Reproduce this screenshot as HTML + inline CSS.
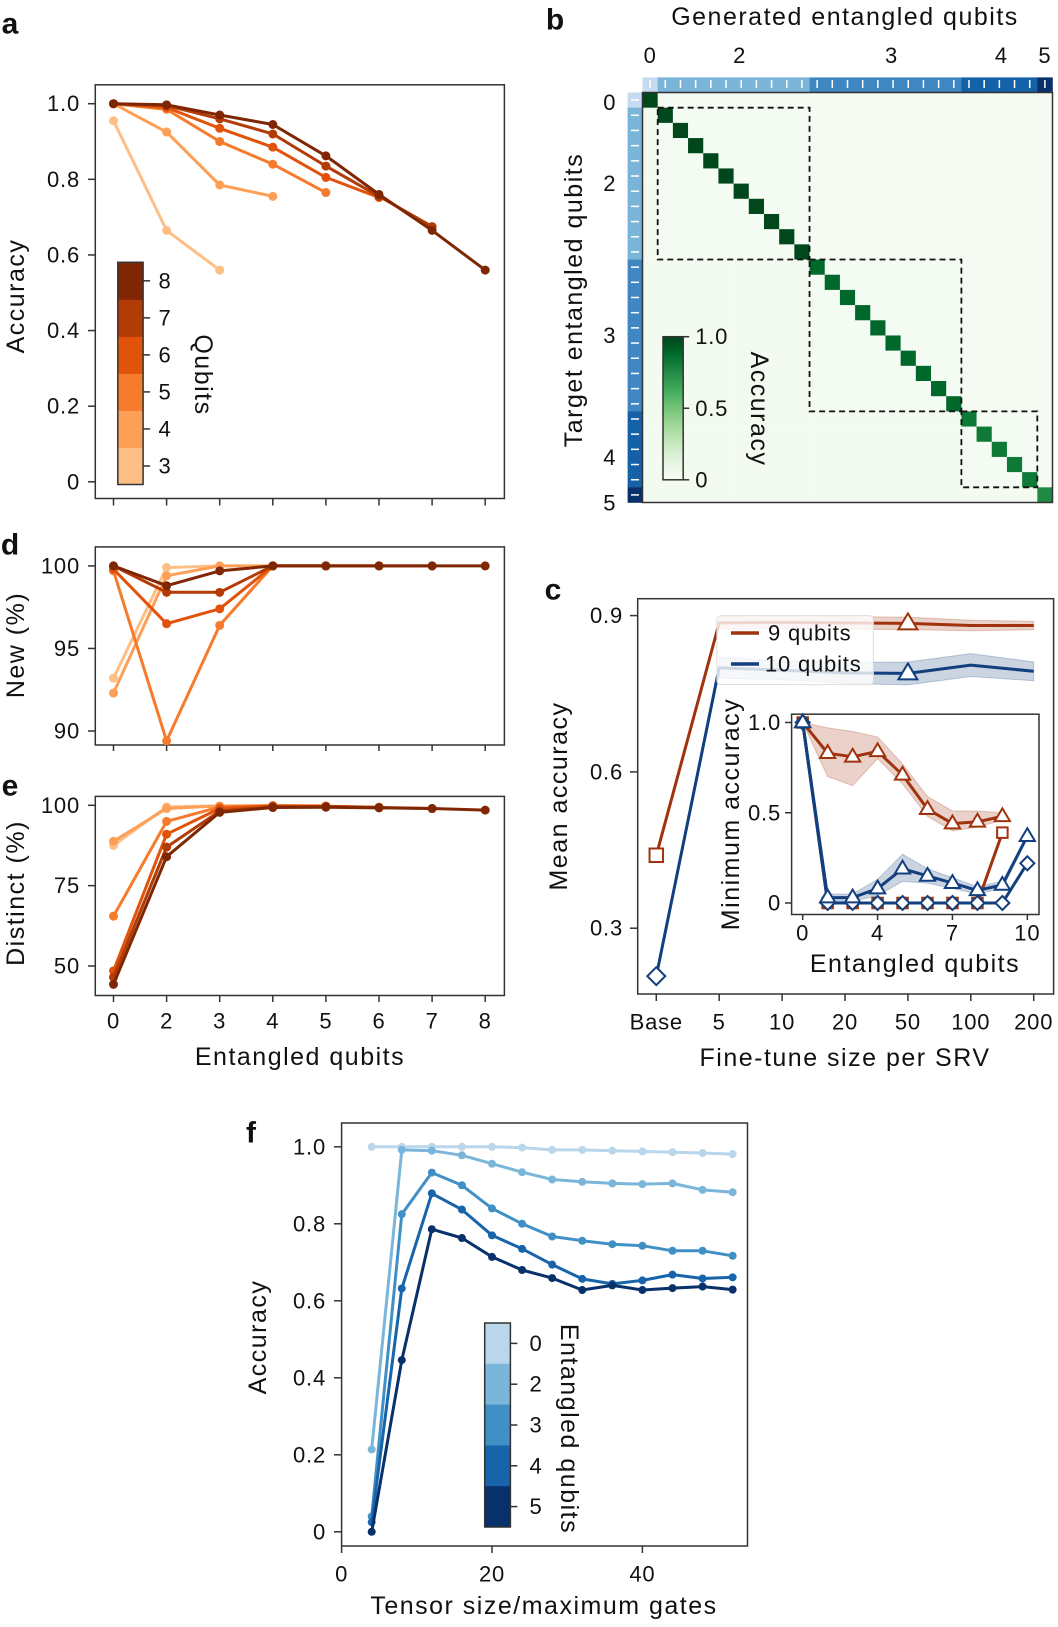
<!DOCTYPE html>
<html><head><meta charset="utf-8"><style>
html,body{margin:0;padding:0;background:#fff;}
svg{display:block;font-family:"Liberation Sans",sans-serif;}
</style></head><body>
<svg id="fig" width="1058" height="1627" viewBox="0 0 1058 1627" xmlns="http://www.w3.org/2000/svg"></svg>
<script>
// ---------- data ----------
const aCategories = ['0','2','3','4','5','6','7','8'];
const qubitLabels = ['3','4','5','6','7','8'];
const qubitColors = ['#fdbf86','#fd9f56','#f67b2c','#e1530b','#b23b06','#7f2704'];
const aAcc3 = [0.955,0.665,0.56];
const aAcc4 = [1.0,0.925,0.785,0.755];
const aAcc5 = [1.0,0.985,0.90,0.84,0.765];
const aAcc6 = [1.0,0.99,0.935,0.885,0.805,0.752];
const aAcc7 = [1.0,0.995,0.96,0.92,0.835,0.755,0.675];
const aAcc8 = [1.0,0.997,0.97,0.945,0.862,0.76,0.665,0.56];
const aTicks = [0,0.2,0.4,0.6,0.8,1.0];
const aTickLabels = ['0','0.2','0.4','0.6','0.8','1.0'];

const dNew3 = [93.2,99.9,100];
const dNew4 = [92.3,99.4,100,100];
const dNew5 = [99.7,89.4,96.4,100,100];
const dNew6 = [99.8,96.5,97.4,100,100,100];
const dNew7 = [100,98.4,98.4,100,100,100,100];
const dNew8 = [100,98.8,99.7,100,100,100,100,100];
const dTicks = [90,95,100];

const eDist3 = [87.5,99.5,99.8];
const eDist4 = [88.8,99.0,99.8,99.9];
const eDist5 = [65.5,95.0,99.5,99.9,99.8];
const eDist6 = [48.5,91.0,99.0,99.8,99.7,99.4];
const eDist7 = [46.5,87.0,98.2,99.6,99.6,99.3,99.0];
const eDist8 = [44.3,84.0,97.8,99.3,99.4,99.2,99.0,98.5];
const eTicks = [50,75,100];

const hmGroups = [0,2,2,2,2,2,2,2,2,2,2,3,3,3,3,3,3,3,3,3,3,4,4,4,4,4,5];
const hmDiag = [0.99,0.99,0.99,0.99,0.99,0.99,0.99,0.99,0.99,0.99,0.99,0.89,0.89,0.89,0.89,0.89,0.89,0.89,0.89,0.89,0.89,0.82,0.82,0.82,0.82,0.82,0.76];
const hmOff = 0.02;
const hmGroupLabels = ['0','2','3','4','5'];

const cCategories = ['Base','5','10','20','50','100','200'];
const c9 = [0.44,0.886,0.887,0.886,0.885,0.881,0.881];
const c9Err = [0,0.012,0.012,0.012,0.012,0.01,0.008];
const c10 = [0.208,0.80,0.795,0.79,0.789,0.805,0.793];
const c10Err = [0,0.02,0.018,0.02,0.022,0.022,0.018];
const cTicks = [0.3,0.6,0.9];
const insetCategories = ['0','2','3','4','5','6','7','8','9','10'];
const insetTickIdx = [0,3,6,9];
const in9Tri = [1.0,0.83,0.81,0.84,0.71,0.52,0.44,0.45,0.48];
const in9TriHi = [1.0,0.97,0.95,0.92,0.77,0.59,0.51,0.51,0.5];
const in9TriLo = [1.0,0.70,0.65,0.80,0.66,0.48,0.40,0.42,0.46];
const in9Sq = [1.0,0,0,0,0,0,0,0,0.39];
const in10Tri = [1.0,0.03,0.03,0.08,0.19,0.15,0.11,0.07,0.10,0.37];
const in10TriHi = [1.0,0.05,0.05,0.13,0.27,0.19,0.14,0.09,0.12,0.38];
const in10TriLo = [1.0,0.01,0.01,0.04,0.12,0.11,0.08,0.05,0.08,0.36];
const in10Dia = [1.0,0,0,0,0,0,0,0,0,0.22];
const insetYTicks = [0,0.5,1.0];

const fX = [4,8,12,16,20,24,28,32,36,40,44,48,52];
const f0 = [1.0,1.0,1.0,1.0,1.0,0.998,0.992,0.992,0.99,0.988,0.986,0.984,0.981];
const f2 = [0.214,0.992,0.99,0.978,0.956,0.934,0.915,0.909,0.905,0.903,0.905,0.888,0.882];
const f3 = [0.04,0.825,0.933,0.90,0.84,0.80,0.767,0.756,0.747,0.743,0.73,0.73,0.717];
const f4 = [0.025,0.632,0.879,0.837,0.77,0.735,0.694,0.657,0.644,0.653,0.668,0.658,0.661];
const f5 = [0.0,0.446,0.786,0.763,0.714,0.68,0.659,0.628,0.64,0.628,0.633,0.637,0.629];
const fLabels = ['0','2','3','4','5'];
const fColors = ['#bad6ea','#7ab6d9','#4090c5','#1764ab','#08306b'];
const fXTicks = [0,20,40];
const fYTicks = [0,0.2,0.4,0.6,0.8,1.0];
const fYTickLabels = ['0','0.2','0.4','0.6','0.8','1.0'];

// ---------- helpers ----------
const NS='http://www.w3.org/2000/svg';
const svg=document.getElementById('fig');
const TS=22, TT=25;
function el(tag, attrs, name, parent){
  const e=document.createElementNS(NS,tag);
  for(const k in attrs) e.setAttribute(k, attrs[k]);
  
  
  (parent||svg).appendChild(e);
  return e;
}
function txt(x,y,s,size,anchor,name,rot,weight){
  const a={x:x,y:y,'font-size':size,'text-anchor':anchor||'middle','dominant-baseline':'central',fill:'#111'};
  if(weight) a['font-weight']=weight;
  else a['letter-spacing']=(size>=TT?1.5:0.8);
  if(rot) a.transform='rotate('+rot+' '+x+' '+y+')';
  const t=el('text',a,name);
  t.textContent=s;
  return t;
}
function line(x1,y1,x2,y2,stroke,w,name,dash){
  const a={x1:x1,y1:y1,x2:x2,y2:y2,stroke:stroke,'stroke-width':w};
  if(dash) a['stroke-dasharray']=dash;
  return el('line',a,name);
}
function poly(pts,color,w,name){
  return el('polyline',{points:pts.map(p=>p[0].toFixed(1)+','+p[1].toFixed(1)).join(' '),fill:'none',stroke:color,'stroke-width':w,'stroke-linejoin':'round'},name);
}
function box(x1,y1,x2,y2,name){
  return el('rect',{x:x1,y:y1,width:x2-x1,height:y2-y1,fill:'none',stroke:'#333','stroke-width':1.5},name);
}
function hexLerp(a,b,t){
  const pa=[1,3,5].map(i=>parseInt(a.substr(i,2),16)), pb=[1,3,5].map(i=>parseInt(b.substr(i,2),16));
  return 'rgb('+pa.map((v,i)=>Math.round(v+(pb[i]-v)*t)).join(',')+')';
}
const greens=['#f7fcf5','#e5f5e0','#c7e9c0','#a1d99b','#74c476','#41ab5d','#238b45','#006d2c','#00441b'];
function greenOf(v){const p=Math.max(0,Math.min(1,v))*8;const i=Math.min(7,Math.floor(p));return hexLerp(greens[i],greens[i+1],p-i);}

// ---------- panel a ----------
const ax=i=>113.5+i*53.1, ay=v=>481.8-v*378.1;
txt(10,24,'a',30,'middle','panel-label-a',0,'bold');
box(95.3,84.8,504.4,498.5,'panel-a-axes');
aTicks.forEach((v,i)=>{line(88,ay(v),95.3,ay(v),'#333',1.5,'a-y-tick');txt(80,ay(v),aTickLabels[i],TS,'end','a-y-tick-label');});
aCategories.forEach((c,i)=>line(ax(i),498.5,ax(i),505.5,'#333',1.5,'a-x-tick'));
txt(16,296,'Accuracy',TT,'middle','a-y-axis-title',-90);
[aAcc3,aAcc4,aAcc5,aAcc6,aAcc7,aAcc8].forEach((s,k)=>{
  poly(s.map((v,i)=>[ax(i),ay(v)]),qubitColors[k],3,'a-line-q'+qubitLabels[k]);
  s.forEach((v,i)=>el('circle',{cx:ax(i),cy:ay(v),r:4.5,fill:qubitColors[k]},'a-point'));
});
(function(){const x0=117.8,x1=143.1,y0=262.3,y1=484.5,h=(y1-y0)/6;
  qubitColors.forEach((c,k)=>{const yy=y1-(k+1)*h;el('rect',{x:x0,y:yy,width:x1-x0,height:h+0.5,fill:c},'a-colorbar-segment');
    line(x1,yy+h/2,x1+7,yy+h/2,'#333',1.5,'a-colorbar-tick');txt(165,yy+h/2,qubitLabels[k],TS,'middle','a-colorbar-label');});
  box(x0,y0,x1,y1,'a-colorbar-frame');
  txt(203,375,'Qubits',TT,'middle','a-colorbar-title',90);})();

// ---------- panel b ----------
const bL=642.5,bT=92.5,cs=410/27;
txt(555,20,'b',30,'middle','panel-label-b',0,'bold');
txt(845,17,'Generated entangled qubits',TT,'middle','b-x-axis-title');
txt(574,300,'Target entangled qubits',TT,'middle','b-y-axis-title',-90);
hmGroups.forEach((gr,i)=>hmGroups.forEach((gc,j)=>{
  const v=(i===j)?hmDiag[i]:hmOff*(gr===gc?1:(i>j?1.3:0.8));
  el('rect',{x:bL+j*cs,y:bT+i*cs,width:cs+0.3,height:cs+0.3,fill:greenOf(v)},'heatmap-cell');
}));
const stripColor={0:'#c6dbef',2:'#7bb4d9',3:'#3f87c2',4:'#1561a8',5:'#08306b'};
hmGroups.forEach((g,i)=>{
  el('rect',{x:bL+i*cs,y:77.4,width:cs+0.3,height:bT-77.4,fill:stripColor[g]},'b-top-strip-cell');
  line(bL+i*cs+cs/2,80,bL+i*cs+cs/2,88,'#fff',1.5,'b-top-strip-tick');
  el('rect',{x:627.6,y:bT+i*cs,width:bL-627.6,height:cs+0.3,fill:stripColor[g]},'b-left-strip-cell');
  line(631,bT+i*cs+cs/2,639,bT+i*cs+cs/2,'#fff',1.5,'b-left-strip-tick');
});
box(bL,bT,bL+410,bT+410,'b-heatmap-frame');
[[0,1],[1,10],[11,10],[21,5],[26,1]].forEach((g,k)=>{
  const c=bL+(g[0]+g[1]/2)*cs;
  txt(c+(k===1||k===2?6:k===3?2:0),55.6,hmGroupLabels[k],TS,'middle','b-top-group-label');
  const r=bT+(g[0]+g[1]/2)*cs;
  txt(609.8,k===4?503:k===0?102.7:r+(k===3?8:0),hmGroupLabels[k],TS,'middle','b-left-group-label');
  if(k>=1&&k<=3) el('rect',{x:bL+g[0]*cs,y:bT+g[0]*cs,width:g[1]*cs,height:g[1]*cs,fill:'none',stroke:'#111','stroke-width':1.8,'stroke-dasharray':'6,4'},'b-group-dashed-box');
});
(function(){const x0=663,x1=683.2,y0=336.7,y1=479.8;
  const gd=el('linearGradient',{id:'gcb',x1:0,y1:1,x2:0,y2:0},'b-colorbar-gradient');
  greens.forEach((c,i)=>el('stop',{offset:(i/8),'stop-color':c},'gradient-stop',gd));
  el('rect',{x:x0,y:y0,width:x1-x0,height:y1-y0,fill:'url(#gcb)',stroke:'#333','stroke-width':1.5},'b-colorbar');
  [[1,'1.0'],[0.5,'0.5'],[0,'0']].forEach(p=>{const y=y1-p[0]*(y1-y0);line(x1,y,x1+6,y,'#333',1.5,'b-colorbar-tick');txt(x1+12,y,p[1],TS,'start','b-colorbar-label');});
  txt(759,409,'Accuracy',TT,'middle','b-colorbar-title',90);})();

// ---------- panel d & e ----------
const dy=v=>565.9+(100-v)*16.51, ey=v=>805.3+(100-v)*3.214;
txt(10,545,'d',30,'middle','panel-label-d',0,'bold');
txt(10,786,'e',30,'middle','panel-label-e',0,'bold');
box(95.3,546.9,504.4,745,'panel-d-axes');
box(95.3,796.4,504.4,995.5,'panel-e-axes');
dTicks.forEach(v=>{line(88,dy(v),95.3,dy(v),'#333',1.5,'d-y-tick');txt(80,dy(v),String(v),TS,'end','d-y-tick-label');});
eTicks.forEach(v=>{line(88,ey(v),95.3,ey(v),'#333',1.5,'e-y-tick');txt(80,ey(v),String(v),TS,'end','e-y-tick-label');});
aCategories.forEach((c,i)=>{line(ax(i),745,ax(i),751,'#333',1.5,'d-x-tick');line(ax(i),995.5,ax(i),1002,'#333',1.5,'e-x-tick');txt(ax(i),1021,c,TS,'middle','e-x-tick-label');});
txt(16,645,'New (%)',TT,'middle','d-y-axis-title',-90);
txt(16,893,'Distinct (%)',TT,'middle','e-y-axis-title',-90);
txt(300,1057,'Entangled qubits',TT,'middle','e-x-axis-title');
[dNew3,dNew4,dNew5,dNew6,dNew7,dNew8].forEach((s,k)=>{
  poly(s.map((v,i)=>[ax(i),dy(v)]),qubitColors[k],3,'d-line-q'+qubitLabels[k]);
  s.forEach((v,i)=>el('circle',{cx:ax(i),cy:dy(v),r:4.5,fill:qubitColors[k]},'d-point'));
});
[eDist3,eDist4,eDist5,eDist6,eDist7,eDist8].forEach((s,k)=>{
  poly(s.map((v,i)=>[ax(i),ey(v)]),qubitColors[k],3,'e-line-q'+qubitLabels[k]);
  s.forEach((v,i)=>el('circle',{cx:ax(i),cy:ey(v),r:4.5,fill:qubitColors[k]},'e-point'));
});

// ---------- panel c ----------
const C9='#a0330e', C10='#123f7d';
const cx=i=>656.3+i*62.9, cy=v=>615.6+(0.9-v)*521;
txt(553,590,'c',30,'middle','panel-label-c',0,'bold');
box(637.7,598.7,1053.6,994,'panel-c-axes');
cTicks.forEach(v=>{line(630,cy(v),637.7,cy(v),'#333',1.5,'c-y-tick');txt(623,cy(v),v.toFixed(1),TS,'end','c-y-tick-label');});
cCategories.forEach((c,i)=>{line(cx(i),994,cx(i),1001,'#333',1.5,'c-x-tick');txt(cx(i),1022,c,TS,'middle','c-x-tick-label');});
txt(845,1058,'Fine-tune size per SRV',TT,'middle','c-x-axis-title');
txt(559,796,'Mean accuracy',TT,'middle','c-y-axis-title',-90);
function band(xs,hi,lo,color,name,fx,fy,from){
  const up=[],dn=[];for(let i=from;i<hi.length;i++){up.push(fx(i)+','+fy(hi[i]));dn.unshift(fx(i)+','+fy(lo[i]));}
  el('polygon',{points:up.concat(dn).join(' '),fill:color,'fill-opacity':0.22,stroke:color,'stroke-opacity':0.25},name);
}
band(cCategories,c9.map((v,i)=>v+c9Err[i]),c9.map((v,i)=>v-c9Err[i]),C9,'c-band-9-qubits',cx,cy,1);
band(cCategories,c10.map((v,i)=>v+c10Err[i]),c10.map((v,i)=>v-c10Err[i]),C10,'c-band-10-qubits',cx,cy,1);
poly(c9.map((v,i)=>[cx(i),cy(v)]),C9,3,'c-line-9-qubits');
poly(c10.map((v,i)=>[cx(i),cy(v)]),C10,3,'c-line-10-qubits');
function marker(kind,x,y,color,s,name){
  let pts;
  if(kind==='tri') pts=[[x,y-s],[x+s*0.95,y+s*0.6],[x-s*0.95,y+s*0.6]];
  else if(kind==='sq') pts=[[x-s*0.75,y-s*0.75],[x+s*0.75,y-s*0.75],[x+s*0.75,y+s*0.75],[x-s*0.75,y+s*0.75]];
  else pts=[[x,y-s],[x+s,y],[x,y+s],[x-s,y]];
  el('polygon',{points:pts.map(p=>p.join(',')).join(' '),fill:'#fff',stroke:color,'stroke-width':2},name);
}
marker('sq',cx(0),cy(c9[0]),C9,9,'c-marker-9-base');
marker('dia',cx(0),cy(c10[0]),C10,9,'c-marker-10-base');
marker('tri',cx(4),cy(c9[4]),C9,10,'c-marker-9-triangle');
marker('tri',cx(4),cy(c10[4]),C10,10,'c-marker-10-triangle');
el('rect',{x:716.9,y:615.6,width:156.5,height:69,rx:4,fill:'#fff','fill-opacity':0.8,stroke:'#ddd','stroke-width':1},'c-legend');
line(731,633,759,633,C9,3.5,'legend-9-qubits-line');txt(768,633,'9 qubits',TS,'start','legend-9-qubits-label');
line(731,664,759,664,C10,3.5,'legend-10-qubits-line');txt(765,664,'10 qubits',TS,'start','legend-10-qubits-label');
// inset
const ix=i=>802.7+i*24.96, iy=v=>903-v*180.5;
el('rect',{x:791.6,y:714.2,width:247.4,height:200.3,fill:'#fff',stroke:'#333','stroke-width':1.5},'c-inset-axes');
insetYTicks.forEach(v=>{line(785,iy(v),791.6,iy(v),'#333',1.5,'inset-y-tick');txt(781,iy(v),v===0?'0':v.toFixed(1),TS,'end','inset-y-tick-label');});
insetTickIdx.forEach(i=>{line(ix(i),914.5,ix(i),920,'#333',1.5,'inset-x-tick');txt(ix(i),933,insetCategories[i],TS,'middle','inset-x-tick-label');});
txt(915,964,'Entangled qubits',TT,'middle','inset-x-axis-title');
txt(731,814,'Minimum accuracy',TT,'middle','inset-y-axis-title',-90);
band(insetCategories,in9TriHi,in9TriLo,C9,'inset-band-9-qubits',ix,iy,0);
band(insetCategories,in10TriHi,in10TriLo,C10,'inset-band-10-qubits',ix,iy,0);
poly(in9Sq.map((v,i)=>[ix(i),iy(v)]),C9,3,'inset-line-9-base');
poly(in9Tri.map((v,i)=>[ix(i),iy(v)]),C9,3,'inset-line-9-finetuned');
poly(in10Dia.map((v,i)=>[ix(i),iy(v)]),C10,3,'inset-line-10-base');
poly(in10Tri.map((v,i)=>[ix(i),iy(v)]),C10,3,'inset-line-10-finetuned');
in9Sq.forEach((v,i)=>marker('sq',ix(i),iy(v),C9,7,'inset-marker-9-square'));
in9Tri.forEach((v,i)=>marker('tri',ix(i),iy(v),C9,8,'inset-marker-9-triangle'));
in10Dia.forEach((v,i)=>marker('dia',ix(i),iy(v),C10,7,'inset-marker-10-diamond'));
in10Tri.forEach((v,i)=>marker('tri',ix(i),iy(v),C10,8,'inset-marker-10-triangle'));

// ---------- panel f ----------
const fxs=v=>341.6+v*7.52, fys=v=>1531.8-v*385;
txt(251,1133,'f',30,'middle','panel-label-f',0,'bold');
box(341.6,1123,747.5,1546,'panel-f-axes');
fYTicks.forEach((v,i)=>{line(334,fys(v),341.6,fys(v),'#333',1.5,'f-y-tick');txt(326,fys(v),fYTickLabels[i],TS,'end','f-y-tick-label');});
fXTicks.forEach(v=>{line(fxs(v),1546,fxs(v),1553,'#333',1.5,'f-x-tick');txt(fxs(v),1574,String(v),TS,'middle','f-x-tick-label');});
txt(544,1606,'Tensor size/maximum gates',TT,'middle','f-x-axis-title');
txt(258,1337,'Accuracy',TT,'middle','f-y-axis-title',-90);
[f0,f2,f3,f4,f5].forEach((s,k)=>{
  poly(s.map((v,i)=>[fxs(fX[i]),fys(v)]),fColors[k],3,'f-line-'+fLabels[k]);
  s.forEach((v,i)=>el('circle',{cx:fxs(fX[i]),cy:fys(v),r:4,fill:fColors[k]},'f-point'));
});
(function(){const x0=484.7,x1=510.4,y0=1323,y1=1527,h=(y1-y0)/5;
  fColors.forEach((c,k)=>{const yy=y0+k*h;el('rect',{x:x0,y:yy,width:x1-x0,height:h+0.5,fill:c},'f-colorbar-segment');
    line(x1,yy+h/2,x1+7,yy+h/2,'#333',1.5,'f-colorbar-tick');txt(536,yy+h/2,fLabels[k],TS,'middle','f-colorbar-label');});
  box(x0,y0,x1,y1,'f-colorbar-frame');
  txt(569,1429,'Entangled qubits',TT,'middle','f-colorbar-title',90);})();
</script>
</body></html>
